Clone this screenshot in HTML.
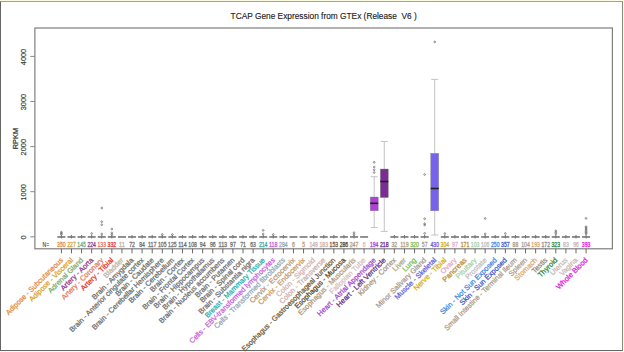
<!DOCTYPE html>
<html><head><meta charset="utf-8"><style>
html,body{margin:0;padding:0;}
body{width:624px;height:352px;background:#FBFBE2;position:relative;overflow:hidden;}
.frame{position:absolute;left:0;top:1px;width:623px;height:350px;background:#fff;box-sizing:border-box;
border-top:1px solid #A4A48E;border-left:1px solid #666;border-bottom:1px solid #666;border-right:1px solid #8A8A78;}
.wrap{position:absolute;left:0;top:0;width:624px;height:352px;} svg{display:block;}
text{font-family:"Liberation Sans",sans-serif;}
.tt{font-size:9.6px;fill:#222;stroke:#222;stroke-width:0.15px;}
.yl{font-size:7.4px;fill:#444;stroke:#444;stroke-width:0.2px;}
.yt{font-size:7.4px;fill:#333;stroke:#333;stroke-width:0.2px;}
.nl{font-size:6.4px;}
.xl{font-size:7.3px;stroke-width:0.25px;}
</style></head><body><div class="frame"></div>
<div class="wrap"><svg width="624" height="352" viewBox="0 0 624 352">
<rect x="34.9" y="28.0" width="577.5" height="220.8" fill="none" stroke="#7a7a7a" stroke-width="1.15"/>
<line x1="30.3" y1="236.8" x2="34.9" y2="236.8" stroke="#888" stroke-width="1"/>
<text transform="translate(25.6,237.4) rotate(-90)" text-anchor="middle" class="yl">0</text>
<line x1="30.3" y1="191.7" x2="34.9" y2="191.7" stroke="#888" stroke-width="1"/>
<text transform="translate(25.6,192.3) rotate(-90)" text-anchor="middle" class="yl">1000</text>
<line x1="30.3" y1="146.6" x2="34.9" y2="146.6" stroke="#888" stroke-width="1"/>
<text transform="translate(25.6,147.2) rotate(-90)" text-anchor="middle" class="yl">2000</text>
<line x1="30.3" y1="101.5" x2="34.9" y2="101.5" stroke="#888" stroke-width="1"/>
<text transform="translate(25.6,102.1) rotate(-90)" text-anchor="middle" class="yl">3000</text>
<line x1="30.3" y1="56.4" x2="34.9" y2="56.4" stroke="#888" stroke-width="1"/>
<text transform="translate(25.6,57.0) rotate(-90)" text-anchor="middle" class="yl">4000</text>
<text transform="translate(18.2,138.6) rotate(-90)" text-anchor="middle" class="yt">RPKM</text>
<text x="230.6" y="18.8" textLength="186.2" lengthAdjust="spacingAndGlyphs" class="tt">TCAP Gene Expression from GTEx (Release&#160;&#160;V6 )</text>
<text x="42.6" y="246.6" textLength="6.6" lengthAdjust="spacingAndGlyphs" class="nl" fill="#333" stroke="#333" stroke-width="0.1">N=</text>
<line x1="61.40" y1="248.8" x2="61.40" y2="253.3" stroke="#666" stroke-width="1"/>
<text x="57.12" y="246.6" textLength="8.55" lengthAdjust="spacingAndGlyphs" class="nl" fill="#E08A48" stroke="#E08A48" stroke-width="0.28">350</text>
<text transform="translate(63.50,260.6) rotate(-45)" text-anchor="end" class="xl" textLength="77.56" lengthAdjust="spacingAndGlyphs" fill="#E08A48" stroke="#E08A48">Adipose - Subcutaneous</text>
<line x1="71.49" y1="248.8" x2="71.49" y2="253.3" stroke="#666" stroke-width="1"/>
<text x="67.21" y="246.6" textLength="8.55" lengthAdjust="spacingAndGlyphs" class="nl" fill="#D8A030" stroke="#D8A030" stroke-width="0.28">227</text>
<text transform="translate(73.59,260.6) rotate(-45)" text-anchor="end" class="xl" fill="#D8A030" stroke="#D8A030">Adipose - Visceral</text>
<line x1="81.58" y1="248.8" x2="81.58" y2="253.3" stroke="#666" stroke-width="1"/>
<text x="77.30" y="246.6" textLength="8.55" lengthAdjust="spacingAndGlyphs" class="nl" fill="#78AE78" stroke="#78AE78" stroke-width="0.28">145</text>
<text transform="translate(83.68,260.6) rotate(-45)" text-anchor="end" class="xl" fill="#78AE78" stroke="#78AE78">Adrenal Gland</text>
<line x1="91.67" y1="248.8" x2="91.67" y2="253.3" stroke="#666" stroke-width="1"/>
<text x="87.39" y="246.6" textLength="8.55" lengthAdjust="spacingAndGlyphs" class="nl" fill="#903A90" stroke="#903A90" stroke-width="0.28">224</text>
<text transform="translate(93.77,260.6) rotate(-45)" text-anchor="end" class="xl" fill="#903A90" stroke="#903A90">Artery - Aorta</text>
<line x1="101.76" y1="248.8" x2="101.76" y2="253.3" stroke="#666" stroke-width="1"/>
<text x="97.48" y="246.6" textLength="8.55" lengthAdjust="spacingAndGlyphs" class="nl" fill="#E07A68" stroke="#E07A68" stroke-width="0.28">133</text>
<text transform="translate(103.86,260.6) rotate(-45)" text-anchor="end" class="xl" fill="#E07A68" stroke="#E07A68">Artery - Coronary</text>
<line x1="111.85" y1="248.8" x2="111.85" y2="253.3" stroke="#666" stroke-width="1"/>
<text x="107.57" y="246.6" textLength="8.55" lengthAdjust="spacingAndGlyphs" class="nl" fill="#E83030" stroke="#E83030" stroke-width="0.28">332</text>
<text transform="translate(113.95,260.6) rotate(-45)" text-anchor="end" class="xl" fill="#E83030" stroke="#E83030">Artery - Tibial</text>
<line x1="121.94" y1="248.8" x2="121.94" y2="253.3" stroke="#666" stroke-width="1"/>
<text x="119.09" y="246.6" textLength="5.70" lengthAdjust="spacingAndGlyphs" class="nl" fill="#C0B0A0" stroke="#C0B0A0" stroke-width="0.28">11</text>
<text transform="translate(124.04,260.6) rotate(-45)" text-anchor="end" class="xl" fill="#C0B0A0" stroke="#C0B0A0">Bladder</text>
<line x1="132.03" y1="248.8" x2="132.03" y2="253.3" stroke="#666" stroke-width="1"/>
<text x="129.18" y="246.6" textLength="5.70" lengthAdjust="spacingAndGlyphs" class="nl" fill="#6E6E6E" stroke="#6E6E6E" stroke-width="0.28">72</text>
<text transform="translate(134.13,260.6) rotate(-45)" text-anchor="end" class="xl" fill="#6E6E6E" stroke="#6E6E6E">Brain - Amygdala</text>
<line x1="142.12" y1="248.8" x2="142.12" y2="253.3" stroke="#666" stroke-width="1"/>
<text x="139.27" y="246.6" textLength="5.70" lengthAdjust="spacingAndGlyphs" class="nl" fill="#6E6E6E" stroke="#6E6E6E" stroke-width="0.28">84</text>
<text transform="translate(144.22,260.6) rotate(-45)" text-anchor="end" class="xl" fill="#6E6E6E" stroke="#6E6E6E">Brain - Anterior cingulate cortex</text>
<line x1="152.21" y1="248.8" x2="152.21" y2="253.3" stroke="#666" stroke-width="1"/>
<text x="147.94" y="246.6" textLength="8.55" lengthAdjust="spacingAndGlyphs" class="nl" fill="#6E6E6E" stroke="#6E6E6E" stroke-width="0.28">117</text>
<text transform="translate(154.31,260.6) rotate(-45)" text-anchor="end" class="xl" fill="#6E6E6E" stroke="#6E6E6E">Brain - Caudate</text>
<line x1="162.30" y1="248.8" x2="162.30" y2="253.3" stroke="#666" stroke-width="1"/>
<text x="158.03" y="246.6" textLength="8.55" lengthAdjust="spacingAndGlyphs" class="nl" fill="#6E6E6E" stroke="#6E6E6E" stroke-width="0.28">105</text>
<text transform="translate(164.40,260.6) rotate(-45)" text-anchor="end" class="xl" fill="#6E6E6E" stroke="#6E6E6E">Brain - Cerebellar Hemisphere</text>
<line x1="172.39" y1="248.8" x2="172.39" y2="253.3" stroke="#666" stroke-width="1"/>
<text x="168.11" y="246.6" textLength="8.55" lengthAdjust="spacingAndGlyphs" class="nl" fill="#6E6E6E" stroke="#6E6E6E" stroke-width="0.28">125</text>
<text transform="translate(174.49,260.6) rotate(-45)" text-anchor="end" class="xl" fill="#6E6E6E" stroke="#6E6E6E">Brain - Cerebellum</text>
<line x1="182.48" y1="248.8" x2="182.48" y2="253.3" stroke="#666" stroke-width="1"/>
<text x="178.20" y="246.6" textLength="8.55" lengthAdjust="spacingAndGlyphs" class="nl" fill="#6E6E6E" stroke="#6E6E6E" stroke-width="0.28">114</text>
<text transform="translate(184.58,260.6) rotate(-45)" text-anchor="end" class="xl" fill="#6E6E6E" stroke="#6E6E6E">Brain - Cortex</text>
<line x1="192.57" y1="248.8" x2="192.57" y2="253.3" stroke="#666" stroke-width="1"/>
<text x="188.29" y="246.6" textLength="8.55" lengthAdjust="spacingAndGlyphs" class="nl" fill="#6E6E6E" stroke="#6E6E6E" stroke-width="0.28">108</text>
<text transform="translate(194.67,260.6) rotate(-45)" text-anchor="end" class="xl" fill="#6E6E6E" stroke="#6E6E6E">Brain - Frontal Cortex</text>
<line x1="202.66" y1="248.8" x2="202.66" y2="253.3" stroke="#666" stroke-width="1"/>
<text x="199.81" y="246.6" textLength="5.70" lengthAdjust="spacingAndGlyphs" class="nl" fill="#6E6E6E" stroke="#6E6E6E" stroke-width="0.28">94</text>
<text transform="translate(204.76,260.6) rotate(-45)" text-anchor="end" class="xl" fill="#6E6E6E" stroke="#6E6E6E">Brain - Hippocampus</text>
<line x1="212.75" y1="248.8" x2="212.75" y2="253.3" stroke="#666" stroke-width="1"/>
<text x="209.90" y="246.6" textLength="5.70" lengthAdjust="spacingAndGlyphs" class="nl" fill="#6E6E6E" stroke="#6E6E6E" stroke-width="0.28">96</text>
<text transform="translate(214.85,260.6) rotate(-45)" text-anchor="end" class="xl" fill="#6E6E6E" stroke="#6E6E6E">Brain - Hypothalamus</text>
<line x1="222.84" y1="248.8" x2="222.84" y2="253.3" stroke="#666" stroke-width="1"/>
<text x="218.56" y="246.6" textLength="8.55" lengthAdjust="spacingAndGlyphs" class="nl" fill="#6E6E6E" stroke="#6E6E6E" stroke-width="0.28">113</text>
<text transform="translate(224.94,260.6) rotate(-45)" text-anchor="end" class="xl" fill="#6E6E6E" stroke="#6E6E6E">Brain - Nucleus accumbens</text>
<line x1="232.93" y1="248.8" x2="232.93" y2="253.3" stroke="#666" stroke-width="1"/>
<text x="230.08" y="246.6" textLength="5.70" lengthAdjust="spacingAndGlyphs" class="nl" fill="#6E6E6E" stroke="#6E6E6E" stroke-width="0.28">97</text>
<text transform="translate(235.03,260.6) rotate(-45)" text-anchor="end" class="xl" fill="#6E6E6E" stroke="#6E6E6E">Brain - Putamen</text>
<line x1="243.02" y1="248.8" x2="243.02" y2="253.3" stroke="#666" stroke-width="1"/>
<text x="240.17" y="246.6" textLength="5.70" lengthAdjust="spacingAndGlyphs" class="nl" fill="#6E6E6E" stroke="#6E6E6E" stroke-width="0.28">71</text>
<text transform="translate(245.12,260.6) rotate(-45)" text-anchor="end" class="xl" fill="#6E6E6E" stroke="#6E6E6E">Brain - Spinal cord</text>
<line x1="253.11" y1="248.8" x2="253.11" y2="253.3" stroke="#666" stroke-width="1"/>
<text x="250.26" y="246.6" textLength="5.70" lengthAdjust="spacingAndGlyphs" class="nl" fill="#6E6E6E" stroke="#6E6E6E" stroke-width="0.28">63</text>
<text transform="translate(255.21,260.6) rotate(-45)" text-anchor="end" class="xl" fill="#6E6E6E" stroke="#6E6E6E">Brain - Substantia nigra</text>
<line x1="263.20" y1="248.8" x2="263.20" y2="253.3" stroke="#666" stroke-width="1"/>
<text x="258.93" y="246.6" textLength="8.55" lengthAdjust="spacingAndGlyphs" class="nl" fill="#22B1B1" stroke="#22B1B1" stroke-width="0.28">214</text>
<text transform="translate(265.30,260.6) rotate(-45)" text-anchor="end" class="xl" textLength="81.49" lengthAdjust="spacingAndGlyphs" fill="#22B1B1" stroke="#22B1B1">Breast - Mammary Tissue</text>
<line x1="273.29" y1="248.8" x2="273.29" y2="253.3" stroke="#666" stroke-width="1"/>
<text x="269.01" y="246.6" textLength="8.55" lengthAdjust="spacingAndGlyphs" class="nl" fill="#C464DC" stroke="#C464DC" stroke-width="0.28">118</text>
<text transform="translate(275.39,260.6) rotate(-45)" text-anchor="end" class="xl" textLength="117.51" lengthAdjust="spacingAndGlyphs" fill="#C464DC" stroke="#C464DC">Cells - EBV-transformed lymphocytes</text>
<line x1="283.38" y1="248.8" x2="283.38" y2="253.3" stroke="#666" stroke-width="1"/>
<text x="279.11" y="246.6" textLength="8.55" lengthAdjust="spacingAndGlyphs" class="nl" fill="#90AABB" stroke="#90AABB" stroke-width="0.28">284</text>
<text transform="translate(285.48,260.6) rotate(-45)" text-anchor="end" class="xl" textLength="96.81" lengthAdjust="spacingAndGlyphs" fill="#90AABB" stroke="#90AABB">Cells - Transformed fibroblasts</text>
<line x1="293.47" y1="248.8" x2="293.47" y2="253.3" stroke="#666" stroke-width="1"/>
<text x="292.04" y="246.6" textLength="2.85" lengthAdjust="spacingAndGlyphs" class="nl" fill="#B09A82" stroke="#B09A82" stroke-width="0.28">6</text>
<text transform="translate(295.57,260.6) rotate(-45)" text-anchor="end" class="xl" fill="#B09A82" stroke="#B09A82">Cervix - Ectocervix</text>
<line x1="303.56" y1="248.8" x2="303.56" y2="253.3" stroke="#666" stroke-width="1"/>
<text x="302.13" y="246.6" textLength="2.85" lengthAdjust="spacingAndGlyphs" class="nl" fill="#C49A68" stroke="#C49A68" stroke-width="0.28">5</text>
<text transform="translate(305.66,260.6) rotate(-45)" text-anchor="end" class="xl" fill="#C49A68" stroke="#C49A68">Cervix - Endocervix</text>
<line x1="313.65" y1="248.8" x2="313.65" y2="253.3" stroke="#666" stroke-width="1"/>
<text x="309.38" y="246.6" textLength="8.55" lengthAdjust="spacingAndGlyphs" class="nl" fill="#D0B4B4" stroke="#D0B4B4" stroke-width="0.28">149</text>
<text transform="translate(315.75,260.6) rotate(-45)" text-anchor="end" class="xl" fill="#D0B4B4" stroke="#D0B4B4">Colon - Sigmoid</text>
<line x1="323.74" y1="248.8" x2="323.74" y2="253.3" stroke="#666" stroke-width="1"/>
<text x="319.46" y="246.6" textLength="8.55" lengthAdjust="spacingAndGlyphs" class="nl" fill="#C8B0B0" stroke="#C8B0B0" stroke-width="0.28">183</text>
<text transform="translate(325.84,260.6) rotate(-45)" text-anchor="end" class="xl" fill="#C8B0B0" stroke="#C8B0B0">Colon - Transverse</text>
<line x1="333.83" y1="248.8" x2="333.83" y2="253.3" stroke="#666" stroke-width="1"/>
<text x="329.56" y="246.6" textLength="8.55" lengthAdjust="spacingAndGlyphs" class="nl" fill="#6B5A44" stroke="#6B5A44" stroke-width="0.28">153</text>
<text transform="translate(335.93,260.6) rotate(-45)" text-anchor="end" class="xl" textLength="128.86" lengthAdjust="spacingAndGlyphs" fill="#6B5A44" stroke="#6B5A44">Esophagus - Gastroesophageal Junction</text>
<line x1="343.92" y1="248.8" x2="343.92" y2="253.3" stroke="#666" stroke-width="1"/>
<text x="339.64" y="246.6" textLength="8.55" lengthAdjust="spacingAndGlyphs" class="nl" fill="#564634" stroke="#564634" stroke-width="0.28">286</text>
<text transform="translate(346.02,260.6) rotate(-45)" text-anchor="end" class="xl" fill="#564634" stroke="#564634">Esophagus - Mucosa</text>
<line x1="354.01" y1="248.8" x2="354.01" y2="253.3" stroke="#666" stroke-width="1"/>
<text x="349.74" y="246.6" textLength="8.55" lengthAdjust="spacingAndGlyphs" class="nl" fill="#B49874" stroke="#B49874" stroke-width="0.28">247</text>
<text transform="translate(356.11,260.6) rotate(-45)" text-anchor="end" class="xl" fill="#B49874" stroke="#B49874">Esophagus - Muscularis</text>
<line x1="364.10" y1="248.8" x2="364.10" y2="253.3" stroke="#666" stroke-width="1"/>
<text x="362.67" y="246.6" textLength="2.85" lengthAdjust="spacingAndGlyphs" class="nl" fill="#D8C0C0" stroke="#D8C0C0" stroke-width="0.28">6</text>
<text transform="translate(366.20,260.6) rotate(-45)" text-anchor="end" class="xl" fill="#D8C0C0" stroke="#D8C0C0">Fallopian Tube</text>
<line x1="374.19" y1="248.8" x2="374.19" y2="253.3" stroke="#666" stroke-width="1"/>
<text x="369.92" y="246.6" textLength="8.55" lengthAdjust="spacingAndGlyphs" class="nl" fill="#A848D0" stroke="#A848D0" stroke-width="0.28">194</text>
<text transform="translate(376.29,260.6) rotate(-45)" text-anchor="end" class="xl" fill="#A848D0" stroke="#A848D0">Heart - Atrial Appendage</text>
<line x1="384.28" y1="248.8" x2="384.28" y2="253.3" stroke="#666" stroke-width="1"/>
<text x="380.00" y="246.6" textLength="8.55" lengthAdjust="spacingAndGlyphs" class="nl" fill="#6A2A88" stroke="#6A2A88" stroke-width="0.28">218</text>
<text transform="translate(386.38,260.6) rotate(-45)" text-anchor="end" class="xl" fill="#6A2A88" stroke="#6A2A88">Heart - Left Ventricle</text>
<line x1="394.37" y1="248.8" x2="394.37" y2="253.3" stroke="#666" stroke-width="1"/>
<text x="391.52" y="246.6" textLength="5.70" lengthAdjust="spacingAndGlyphs" class="nl" fill="#A89888" stroke="#A89888" stroke-width="0.28">32</text>
<text transform="translate(396.47,260.6) rotate(-45)" text-anchor="end" class="xl" fill="#A89888" stroke="#A89888">Kidney - Cortex</text>
<line x1="404.46" y1="248.8" x2="404.46" y2="253.3" stroke="#666" stroke-width="1"/>
<text x="400.19" y="246.6" textLength="8.55" lengthAdjust="spacingAndGlyphs" class="nl" fill="#B0A480" stroke="#B0A480" stroke-width="0.28">119</text>
<text transform="translate(406.56,260.6) rotate(-45)" text-anchor="end" class="xl" fill="#B0A480" stroke="#B0A480">Liver</text>
<line x1="414.55" y1="248.8" x2="414.55" y2="253.3" stroke="#666" stroke-width="1"/>
<text x="410.27" y="246.6" textLength="8.55" lengthAdjust="spacingAndGlyphs" class="nl" fill="#7CC040" stroke="#7CC040" stroke-width="0.28">320</text>
<text transform="translate(416.65,260.6) rotate(-45)" text-anchor="end" class="xl" fill="#7CC040" stroke="#7CC040">Lung</text>
<line x1="424.64" y1="248.8" x2="424.64" y2="253.3" stroke="#666" stroke-width="1"/>
<text x="421.79" y="246.6" textLength="5.70" lengthAdjust="spacingAndGlyphs" class="nl" fill="#A89C8C" stroke="#A89C8C" stroke-width="0.28">57</text>
<text transform="translate(426.74,260.6) rotate(-45)" text-anchor="end" class="xl" fill="#A89C8C" stroke="#A89C8C">Minor Salivary Gland</text>
<line x1="434.73" y1="248.8" x2="434.73" y2="253.3" stroke="#666" stroke-width="1"/>
<text x="430.45" y="246.6" textLength="8.55" lengthAdjust="spacingAndGlyphs" class="nl" fill="#6860E0" stroke="#6860E0" stroke-width="0.28">430</text>
<text transform="translate(436.83,260.6) rotate(-45)" text-anchor="end" class="xl" fill="#6860E0" stroke="#6860E0">Muscle - Skeletal</text>
<line x1="444.82" y1="248.8" x2="444.82" y2="253.3" stroke="#666" stroke-width="1"/>
<text x="440.55" y="246.6" textLength="8.55" lengthAdjust="spacingAndGlyphs" class="nl" fill="#D8B000" stroke="#D8B000" stroke-width="0.28">304</text>
<text transform="translate(446.92,260.6) rotate(-45)" text-anchor="end" class="xl" fill="#D8B000" stroke="#D8B000">Nerve - Tibial</text>
<line x1="454.91" y1="248.8" x2="454.91" y2="253.3" stroke="#666" stroke-width="1"/>
<text x="452.06" y="246.6" textLength="5.70" lengthAdjust="spacingAndGlyphs" class="nl" fill="#E8A8C8" stroke="#E8A8C8" stroke-width="0.28">97</text>
<text transform="translate(457.01,260.6) rotate(-45)" text-anchor="end" class="xl" fill="#E8A8C8" stroke="#E8A8C8">Ovary</text>
<line x1="465.00" y1="248.8" x2="465.00" y2="253.3" stroke="#666" stroke-width="1"/>
<text x="460.73" y="246.6" textLength="8.55" lengthAdjust="spacingAndGlyphs" class="nl" fill="#B88A30" stroke="#B88A30" stroke-width="0.28">171</text>
<text transform="translate(467.10,260.6) rotate(-45)" text-anchor="end" class="xl" fill="#B88A30" stroke="#B88A30">Pancreas</text>
<line x1="475.09" y1="248.8" x2="475.09" y2="253.3" stroke="#666" stroke-width="1"/>
<text x="470.81" y="246.6" textLength="8.55" lengthAdjust="spacingAndGlyphs" class="nl" fill="#A8D0A8" stroke="#A8D0A8" stroke-width="0.28">103</text>
<text transform="translate(477.19,260.6) rotate(-45)" text-anchor="end" class="xl" fill="#A8D0A8" stroke="#A8D0A8">Pituitary</text>
<line x1="485.18" y1="248.8" x2="485.18" y2="253.3" stroke="#666" stroke-width="1"/>
<text x="480.90" y="246.6" textLength="8.55" lengthAdjust="spacingAndGlyphs" class="nl" fill="#C0C0C0" stroke="#C0C0C0" stroke-width="0.28">106</text>
<text transform="translate(487.28,260.6) rotate(-45)" text-anchor="end" class="xl" fill="#C0C0C0" stroke="#C0C0C0">Prostate</text>
<line x1="495.27" y1="248.8" x2="495.27" y2="253.3" stroke="#666" stroke-width="1"/>
<text x="491.00" y="246.6" textLength="8.55" lengthAdjust="spacingAndGlyphs" class="nl" fill="#3A88E0" stroke="#3A88E0" stroke-width="0.28">250</text>
<text transform="translate(497.37,260.6) rotate(-45)" text-anchor="end" class="xl" textLength="76.73" lengthAdjust="spacingAndGlyphs" fill="#3A88E0" stroke="#3A88E0">Skin - Not Sun Exposed</text>
<line x1="505.36" y1="248.8" x2="505.36" y2="253.3" stroke="#666" stroke-width="1"/>
<text x="501.08" y="246.6" textLength="8.55" lengthAdjust="spacingAndGlyphs" class="nl" fill="#3858C8" stroke="#3858C8" stroke-width="0.28">357</text>
<text transform="translate(507.46,260.6) rotate(-45)" text-anchor="end" class="xl" textLength="63.47" lengthAdjust="spacingAndGlyphs" fill="#3858C8" stroke="#3858C8">Skin - Sun Exposed</text>
<line x1="515.45" y1="248.8" x2="515.45" y2="253.3" stroke="#666" stroke-width="1"/>
<text x="512.60" y="246.6" textLength="5.70" lengthAdjust="spacingAndGlyphs" class="nl" fill="#A89C8C" stroke="#A89C8C" stroke-width="0.28">88</text>
<text transform="translate(517.55,260.6) rotate(-45)" text-anchor="end" class="xl" textLength="99.46" lengthAdjust="spacingAndGlyphs" fill="#A89C8C" stroke="#A89C8C">Small Intestine - Terminal Ileum</text>
<line x1="525.54" y1="248.8" x2="525.54" y2="253.3" stroke="#666" stroke-width="1"/>
<text x="521.26" y="246.6" textLength="8.55" lengthAdjust="spacingAndGlyphs" class="nl" fill="#A8A098" stroke="#A8A098" stroke-width="0.28">104</text>
<text transform="translate(527.64,260.6) rotate(-45)" text-anchor="end" class="xl" fill="#A8A098" stroke="#A8A098">Spleen</text>
<line x1="535.63" y1="248.8" x2="535.63" y2="253.3" stroke="#666" stroke-width="1"/>
<text x="531.36" y="246.6" textLength="8.55" lengthAdjust="spacingAndGlyphs" class="nl" fill="#D8A878" stroke="#D8A878" stroke-width="0.28">193</text>
<text transform="translate(537.73,260.6) rotate(-45)" text-anchor="end" class="xl" fill="#D8A878" stroke="#D8A878">Stomach</text>
<line x1="545.72" y1="248.8" x2="545.72" y2="253.3" stroke="#666" stroke-width="1"/>
<text x="541.45" y="246.6" textLength="8.55" lengthAdjust="spacingAndGlyphs" class="nl" fill="#888888" stroke="#888888" stroke-width="0.28">172</text>
<text transform="translate(547.82,260.6) rotate(-45)" text-anchor="end" class="xl" fill="#888888" stroke="#888888">Testis</text>
<line x1="555.81" y1="248.8" x2="555.81" y2="253.3" stroke="#666" stroke-width="1"/>
<text x="551.53" y="246.6" textLength="8.55" lengthAdjust="spacingAndGlyphs" class="nl" fill="#208848" stroke="#208848" stroke-width="0.28">323</text>
<text transform="translate(557.91,260.6) rotate(-45)" text-anchor="end" class="xl" fill="#208848" stroke="#208848">Thyroid</text>
<line x1="565.90" y1="248.8" x2="565.90" y2="253.3" stroke="#666" stroke-width="1"/>
<text x="563.05" y="246.6" textLength="5.70" lengthAdjust="spacingAndGlyphs" class="nl" fill="#C8B8B8" stroke="#C8B8B8" stroke-width="0.28">83</text>
<text transform="translate(568.00,260.6) rotate(-45)" text-anchor="end" class="xl" fill="#C8B8B8" stroke="#C8B8B8">Uterus</text>
<line x1="575.99" y1="248.8" x2="575.99" y2="253.3" stroke="#666" stroke-width="1"/>
<text x="573.14" y="246.6" textLength="5.70" lengthAdjust="spacingAndGlyphs" class="nl" fill="#C8B8B8" stroke="#C8B8B8" stroke-width="0.28">96</text>
<text transform="translate(578.09,260.6) rotate(-45)" text-anchor="end" class="xl" fill="#C8B8B8" stroke="#C8B8B8">Vagina</text>
<line x1="586.08" y1="248.8" x2="586.08" y2="253.3" stroke="#666" stroke-width="1"/>
<text x="581.80" y="246.6" textLength="8.55" lengthAdjust="spacingAndGlyphs" class="nl" fill="#E020E0" stroke="#E020E0" stroke-width="0.28">393</text>
<text transform="translate(588.18,260.6) rotate(-45)" text-anchor="end" class="xl" fill="#E020E0" stroke="#E020E0">Whole Blood</text>
<rect x="57.40" y="236.1" width="8.0" height="1.7" fill="#7e7e7e"/>
<rect x="60.85" y="235.0" width="1.1" height="3.4" fill="#777"/>
<circle cx="61.40" cy="232.2" r="0.85" fill="none" stroke="#6a6a6a" stroke-width="0.75"/>
<circle cx="61.40" cy="233.3" r="0.85" fill="none" stroke="#6a6a6a" stroke-width="0.75"/>
<circle cx="61.40" cy="234.3" r="0.85" fill="none" stroke="#6a6a6a" stroke-width="0.75"/>
<rect x="67.49" y="236.1" width="8.0" height="1.7" fill="#7e7e7e"/>
<rect x="70.94" y="235.0" width="1.1" height="3.4" fill="#777"/>
<rect x="77.58" y="236.1" width="8.0" height="1.7" fill="#7e7e7e"/>
<rect x="81.03" y="235.0" width="1.1" height="3.4" fill="#777"/>
<rect x="87.67" y="236.1" width="8.0" height="1.7" fill="#7e7e7e"/>
<rect x="91.12" y="235.0" width="1.1" height="3.4" fill="#777"/>
<circle cx="91.67" cy="233.5" r="0.85" fill="none" stroke="#6a6a6a" stroke-width="0.75"/>
<rect x="97.76" y="236.1" width="8.0" height="1.7" fill="#7e7e7e"/>
<rect x="101.21" y="235.0" width="1.1" height="3.4" fill="#777"/>
<circle cx="101.76" cy="208" r="0.85" fill="none" stroke="#6a6a6a" stroke-width="0.75"/>
<circle cx="101.76" cy="221.7" r="0.85" fill="none" stroke="#6a6a6a" stroke-width="0.75"/>
<circle cx="101.76" cy="224.7" r="0.85" fill="none" stroke="#6a6a6a" stroke-width="0.75"/>
<circle cx="101.76" cy="234" r="0.85" fill="none" stroke="#6a6a6a" stroke-width="0.75"/>
<rect x="107.85" y="236.1" width="8.0" height="1.7" fill="#7e7e7e"/>
<rect x="111.30" y="235.0" width="1.1" height="3.4" fill="#777"/>
<circle cx="111.85" cy="229" r="0.85" fill="none" stroke="#6a6a6a" stroke-width="0.75"/>
<circle cx="111.85" cy="232.9" r="0.85" fill="none" stroke="#6a6a6a" stroke-width="0.75"/>
<circle cx="111.85" cy="234.5" r="0.85" fill="none" stroke="#6a6a6a" stroke-width="0.75"/>
<rect x="117.94" y="236.1" width="8.0" height="1.7" fill="#7e7e7e"/>
<rect x="128.03" y="236.1" width="8.0" height="1.7" fill="#7e7e7e"/>
<rect x="131.48" y="235.0" width="1.1" height="3.4" fill="#777"/>
<rect x="138.12" y="236.1" width="8.0" height="1.7" fill="#7e7e7e"/>
<rect x="141.57" y="235.0" width="1.1" height="3.4" fill="#777"/>
<rect x="148.21" y="236.1" width="8.0" height="1.7" fill="#7e7e7e"/>
<rect x="151.66" y="235.0" width="1.1" height="3.4" fill="#777"/>
<rect x="158.30" y="236.1" width="8.0" height="1.7" fill="#7e7e7e"/>
<rect x="161.75" y="235.0" width="1.1" height="3.4" fill="#777"/>
<circle cx="162.30" cy="234.5" r="0.85" fill="none" stroke="#6a6a6a" stroke-width="0.75"/>
<rect x="168.39" y="236.1" width="8.0" height="1.7" fill="#7e7e7e"/>
<rect x="171.84" y="235.0" width="1.1" height="3.4" fill="#777"/>
<circle cx="172.39" cy="234.5" r="0.85" fill="none" stroke="#6a6a6a" stroke-width="0.75"/>
<rect x="178.48" y="236.1" width="8.0" height="1.7" fill="#7e7e7e"/>
<rect x="181.93" y="235.0" width="1.1" height="3.4" fill="#777"/>
<rect x="188.57" y="236.1" width="8.0" height="1.7" fill="#7e7e7e"/>
<rect x="192.02" y="235.0" width="1.1" height="3.4" fill="#777"/>
<rect x="198.66" y="236.1" width="8.0" height="1.7" fill="#7e7e7e"/>
<rect x="202.11" y="235.0" width="1.1" height="3.4" fill="#777"/>
<rect x="208.75" y="236.1" width="8.0" height="1.7" fill="#7e7e7e"/>
<rect x="212.20" y="235.0" width="1.1" height="3.4" fill="#777"/>
<rect x="218.84" y="236.1" width="8.0" height="1.7" fill="#7e7e7e"/>
<rect x="222.29" y="235.0" width="1.1" height="3.4" fill="#777"/>
<rect x="228.93" y="236.1" width="8.0" height="1.7" fill="#7e7e7e"/>
<rect x="232.38" y="235.0" width="1.1" height="3.4" fill="#777"/>
<rect x="239.02" y="236.1" width="8.0" height="1.7" fill="#7e7e7e"/>
<rect x="242.47" y="235.0" width="1.1" height="3.4" fill="#777"/>
<rect x="249.11" y="236.1" width="8.0" height="1.7" fill="#7e7e7e"/>
<rect x="252.56" y="235.0" width="1.1" height="3.4" fill="#777"/>
<rect x="259.20" y="236.1" width="8.0" height="1.7" fill="#7e7e7e"/>
<rect x="262.65" y="235.0" width="1.1" height="3.4" fill="#777"/>
<circle cx="263.20" cy="230.4" r="0.85" fill="none" stroke="#6a6a6a" stroke-width="0.75"/>
<circle cx="263.20" cy="234" r="0.85" fill="none" stroke="#6a6a6a" stroke-width="0.75"/>
<rect x="269.29" y="236.1" width="8.0" height="1.7" fill="#7e7e7e"/>
<rect x="272.74" y="235.0" width="1.1" height="3.4" fill="#777"/>
<circle cx="273.29" cy="234.5" r="0.85" fill="none" stroke="#6a6a6a" stroke-width="0.75"/>
<rect x="279.38" y="236.1" width="8.0" height="1.7" fill="#7e7e7e"/>
<rect x="282.83" y="235.0" width="1.1" height="3.4" fill="#777"/>
<rect x="289.47" y="236.1" width="8.0" height="1.7" fill="#7e7e7e"/>
<rect x="299.56" y="236.1" width="8.0" height="1.7" fill="#7e7e7e"/>
<rect x="309.65" y="236.1" width="8.0" height="1.7" fill="#7e7e7e"/>
<rect x="313.10" y="235.0" width="1.1" height="3.4" fill="#777"/>
<rect x="319.74" y="236.1" width="8.0" height="1.7" fill="#7e7e7e"/>
<rect x="323.19" y="235.0" width="1.1" height="3.4" fill="#777"/>
<rect x="329.83" y="236.1" width="8.0" height="1.7" fill="#7e7e7e"/>
<rect x="333.28" y="235.0" width="1.1" height="3.4" fill="#777"/>
<rect x="339.92" y="236.1" width="8.0" height="1.7" fill="#7e7e7e"/>
<rect x="343.37" y="235.0" width="1.1" height="3.4" fill="#777"/>
<rect x="350.01" y="236.1" width="8.0" height="1.7" fill="#7e7e7e"/>
<rect x="353.46" y="235.0" width="1.1" height="3.4" fill="#777"/>
<circle cx="354.01" cy="232.7" r="0.85" fill="none" stroke="#6a6a6a" stroke-width="0.75"/>
<circle cx="354.01" cy="234.5" r="0.85" fill="none" stroke="#6a6a6a" stroke-width="0.75"/>
<rect x="360.10" y="236.1" width="8.0" height="1.7" fill="#7e7e7e"/>
<line x1="374.19" y1="176.7" x2="374.19" y2="197.0" stroke="#C4C4C4" stroke-width="1"/>
<line x1="374.19" y1="210.8" x2="374.19" y2="227.5" stroke="#C4C4C4" stroke-width="1"/>
<line x1="370.69" y1="176.7" x2="377.69" y2="176.7" stroke="#C4C4C4" stroke-width="1"/>
<line x1="370.69" y1="227.5" x2="377.69" y2="227.5" stroke="#C4C4C4" stroke-width="1"/>
<rect x="370.19" y="197.0" width="8.0" height="13.80" fill="#B040D8" stroke="#888" stroke-width="0.4"/>
<line x1="370.19" y1="203.3" x2="378.19" y2="203.3" stroke="#222" stroke-width="1.6"/>
<circle cx="374.19" cy="162.3" r="0.85" fill="none" stroke="#6a6a6a" stroke-width="0.75"/>
<circle cx="374.19" cy="167.0" r="0.85" fill="none" stroke="#6a6a6a" stroke-width="0.75"/>
<circle cx="374.19" cy="169.8" r="0.85" fill="none" stroke="#6a6a6a" stroke-width="0.75"/>
<circle cx="374.19" cy="172.5" r="0.85" fill="none" stroke="#6a6a6a" stroke-width="0.75"/>
<line x1="384.28" y1="141.5" x2="384.28" y2="169.0" stroke="#C4C4C4" stroke-width="1"/>
<line x1="384.28" y1="197.6" x2="384.28" y2="231.4" stroke="#C4C4C4" stroke-width="1"/>
<line x1="380.78" y1="141.5" x2="387.78" y2="141.5" stroke="#C4C4C4" stroke-width="1"/>
<line x1="380.78" y1="231.4" x2="387.78" y2="231.4" stroke="#C4C4C4" stroke-width="1"/>
<rect x="380.28" y="169.0" width="8.0" height="28.60" fill="#7A2E92" stroke="#888" stroke-width="0.4"/>
<line x1="380.28" y1="181.5" x2="388.28" y2="181.5" stroke="#222" stroke-width="1.6"/>
<rect x="390.37" y="236.1" width="8.0" height="1.7" fill="#7e7e7e"/>
<rect x="393.82" y="235.0" width="1.1" height="3.4" fill="#777"/>
<rect x="400.46" y="236.1" width="8.0" height="1.7" fill="#7e7e7e"/>
<rect x="403.91" y="235.0" width="1.1" height="3.4" fill="#777"/>
<rect x="410.55" y="236.1" width="8.0" height="1.7" fill="#7e7e7e"/>
<rect x="414.00" y="235.0" width="1.1" height="3.4" fill="#777"/>
<rect x="420.64" y="236.1" width="8.0" height="1.7" fill="#7e7e7e"/>
<rect x="424.09" y="235.0" width="1.1" height="3.4" fill="#777"/>
<circle cx="424.64" cy="174.5" r="0.85" fill="none" stroke="#6a6a6a" stroke-width="0.75"/>
<circle cx="424.64" cy="218.7" r="0.85" fill="none" stroke="#6a6a6a" stroke-width="0.75"/>
<circle cx="424.64" cy="223.8" r="0.85" fill="none" stroke="#6a6a6a" stroke-width="0.75"/>
<circle cx="424.64" cy="225.0" r="0.85" fill="none" stroke="#6a6a6a" stroke-width="0.75"/>
<circle cx="424.64" cy="233.4" r="0.85" fill="none" stroke="#6a6a6a" stroke-width="0.75"/>
<line x1="434.73" y1="79.4" x2="434.73" y2="153.3" stroke="#C4C4C4" stroke-width="1"/>
<line x1="434.73" y1="210.8" x2="434.73" y2="235.0" stroke="#C4C4C4" stroke-width="1"/>
<line x1="431.23" y1="79.4" x2="438.23" y2="79.4" stroke="#C4C4C4" stroke-width="1"/>
<line x1="431.23" y1="235.0" x2="438.23" y2="235.0" stroke="#C4C4C4" stroke-width="1"/>
<rect x="430.73" y="153.3" width="8.0" height="57.50" fill="#7562EE" stroke="#888" stroke-width="0.4"/>
<line x1="430.73" y1="188.5" x2="438.73" y2="188.5" stroke="#222" stroke-width="1.6"/>
<circle cx="434.73" cy="41.9" r="0.85" fill="none" stroke="#6a6a6a" stroke-width="0.75"/>
<rect x="440.82" y="236.1" width="8.0" height="1.7" fill="#7e7e7e"/>
<rect x="444.27" y="235.0" width="1.1" height="3.4" fill="#777"/>
<circle cx="444.82" cy="233.5" r="0.85" fill="none" stroke="#6a6a6a" stroke-width="0.75"/>
<rect x="450.91" y="236.1" width="8.0" height="1.7" fill="#7e7e7e"/>
<rect x="454.36" y="235.0" width="1.1" height="3.4" fill="#777"/>
<rect x="461.00" y="236.1" width="8.0" height="1.7" fill="#7e7e7e"/>
<rect x="464.45" y="235.0" width="1.1" height="3.4" fill="#777"/>
<rect x="471.09" y="236.1" width="8.0" height="1.7" fill="#7e7e7e"/>
<rect x="474.54" y="235.0" width="1.1" height="3.4" fill="#777"/>
<rect x="481.18" y="236.1" width="8.0" height="1.7" fill="#7e7e7e"/>
<rect x="484.63" y="235.0" width="1.1" height="3.4" fill="#777"/>
<circle cx="485.18" cy="218.5" r="0.85" fill="none" stroke="#6a6a6a" stroke-width="0.75"/>
<circle cx="485.18" cy="234" r="0.85" fill="none" stroke="#6a6a6a" stroke-width="0.75"/>
<rect x="491.27" y="236.1" width="8.0" height="1.7" fill="#7e7e7e"/>
<rect x="494.72" y="235.0" width="1.1" height="3.4" fill="#777"/>
<rect x="501.36" y="236.1" width="8.0" height="1.7" fill="#7e7e7e"/>
<rect x="504.81" y="235.0" width="1.1" height="3.4" fill="#777"/>
<circle cx="505.36" cy="233.5" r="0.85" fill="none" stroke="#6a6a6a" stroke-width="0.75"/>
<rect x="511.45" y="236.1" width="8.0" height="1.7" fill="#7e7e7e"/>
<rect x="514.90" y="235.0" width="1.1" height="3.4" fill="#777"/>
<rect x="521.54" y="236.1" width="8.0" height="1.7" fill="#7e7e7e"/>
<rect x="524.99" y="235.0" width="1.1" height="3.4" fill="#777"/>
<rect x="531.63" y="236.1" width="8.0" height="1.7" fill="#7e7e7e"/>
<rect x="535.08" y="235.0" width="1.1" height="3.4" fill="#777"/>
<rect x="541.72" y="236.1" width="8.0" height="1.7" fill="#7e7e7e"/>
<rect x="545.17" y="235.0" width="1.1" height="3.4" fill="#777"/>
<rect x="551.81" y="236.1" width="8.0" height="1.7" fill="#7e7e7e"/>
<rect x="555.26" y="235.0" width="1.1" height="3.4" fill="#777"/>
<circle cx="555.81" cy="230.8" r="0.85" fill="none" stroke="#6a6a6a" stroke-width="0.75"/>
<circle cx="555.81" cy="232.3" r="0.85" fill="none" stroke="#6a6a6a" stroke-width="0.75"/>
<circle cx="555.81" cy="233.8" r="0.85" fill="none" stroke="#6a6a6a" stroke-width="0.75"/>
<rect x="561.90" y="236.1" width="8.0" height="1.7" fill="#7e7e7e"/>
<rect x="565.35" y="235.0" width="1.1" height="3.4" fill="#777"/>
<rect x="571.99" y="236.1" width="8.0" height="1.7" fill="#7e7e7e"/>
<rect x="575.44" y="235.0" width="1.1" height="3.4" fill="#777"/>
<rect x="582.08" y="236.1" width="8.0" height="1.7" fill="#7e7e7e"/>
<rect x="585.53" y="235.0" width="1.1" height="3.4" fill="#777"/>
<circle cx="586.08" cy="218.4" r="0.85" fill="none" stroke="#6a6a6a" stroke-width="0.75"/>
<circle cx="586.08" cy="226.7" r="0.85" fill="none" stroke="#6a6a6a" stroke-width="0.75"/>
<circle cx="586.08" cy="227.8" r="0.85" fill="none" stroke="#6a6a6a" stroke-width="0.75"/>
<circle cx="586.08" cy="229" r="0.85" fill="none" stroke="#6a6a6a" stroke-width="0.75"/>
<circle cx="586.08" cy="230.2" r="0.85" fill="none" stroke="#6a6a6a" stroke-width="0.75"/>
<circle cx="586.08" cy="231.5" r="0.85" fill="none" stroke="#6a6a6a" stroke-width="0.75"/>
<circle cx="586.08" cy="232.7" r="0.85" fill="none" stroke="#6a6a6a" stroke-width="0.75"/>
<circle cx="586.08" cy="233.8" r="0.85" fill="none" stroke="#6a6a6a" stroke-width="0.75"/>
</svg></div></body></html>
